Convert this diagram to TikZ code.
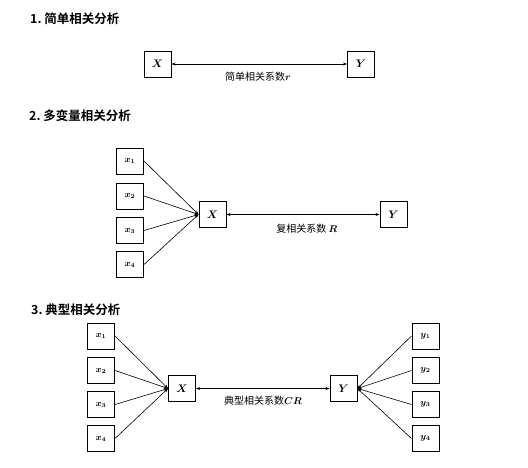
\documentclass[tikz,border=0pt]{standalone}
\usepackage{fontspec}
\newfontfamily\cjk{Noto Sans CJK SC}
\newfontfamily\cjkb{Noto Sans CJK SC Bold}
\usetikzlibrary{arrows.meta}
\begin{document}
\begin{tikzpicture}[x=1pt,y=-1pt,
  box/.style={draw, line width=1pt, minimum width=27pt, minimum height=26pt, inner sep=0pt, font=\boldmath\fontsize{10.5}{12}\selectfont},
  sbox/.style={box, font=\boldmath\fontsize{9}{10}\selectfont},
  heading/.style={anchor=west, inner sep=0pt, font=\cjkb\fontsize{12.5}{14}\selectfont},
  lbl/.style={inner sep=0pt, font=\cjk\boldmath\fontsize{10}{12}\selectfont},
  link/.style={line width=0.6pt},
  tip/.style={-{Stealth[length=4pt,width=3pt]}},
  dtip/.style={{Stealth[length=4pt,width=3pt]}-{Stealth[length=4pt,width=3pt]}}]
\useasboundingbox (0,0) rectangle (528,467);
% Section 1
\node[heading] (h1) at (30,19) {1.\ 简单相关分析};
\node[box] (X1) at (157.5,64) {$X$};
\node[box] (Y1) at (361,64) {$Y$};
\draw[link,dtip] (X1) -- (Y1);
\node[lbl] (l1) at (258,77) {简单相关系数$r$};
% Section 2
\node[heading] (h2) at (29,116) {2.\ 多变量相关分析};
\node[sbox] (a1) at (130,161) {$x_1$};
\node[sbox] (a2) at (130,196) {$x_2$};
\node[sbox] (a3) at (130,230.5) {$x_3$};
\node[sbox] (a4) at (130,264.5) {$x_4$};
\node[box] (X2) at (212.5,214.5) {$X$};
\node[box] (Y2) at (393.5,214.5) {$Y$};
\foreach \i in {1,2,3,4} \draw[link,tip] (a\i.east) -- (X2.west);
\draw[link,dtip] (X2) -- (Y2);
\node[lbl] (l2) at (307,229) {复相关系数 $R$};
% Section 3
\node[heading] (h3) at (31,310) {3.\ 典型相关分析};
\node[sbox] (b1) at (101,336) {$x_1$};
\node[sbox] (b2) at (101,370.5) {$x_2$};
\node[sbox] (b3) at (101,404.5) {$x_3$};
\node[sbox] (b4) at (101,438.5) {$x_4$};
\node[sbox] (c1) at (425.5,336) {$y_1$};
\node[sbox] (c2) at (425.5,370.5) {$y_2$};
\node[sbox] (c3) at (425.5,404.5) {$y_3$};
\node[sbox] (c4) at (425.5,438.5) {$y_4$};
\node[box] (X3) at (182,388.5) {$X$};
\node[box] (Y3) at (343.5,388.5) {$Y$};
\foreach \i in {1,2,3,4} {
  \draw[link,tip] (b\i.east) -- (X3.west);
  \draw[link,tip] (c\i.west) -- (Y3.east);
}
\draw[link,dtip] (X3) -- (Y3);
\node[lbl] (l3) at (263,401) {典型相关系数$CR$};
\end{tikzpicture}
\end{document}
